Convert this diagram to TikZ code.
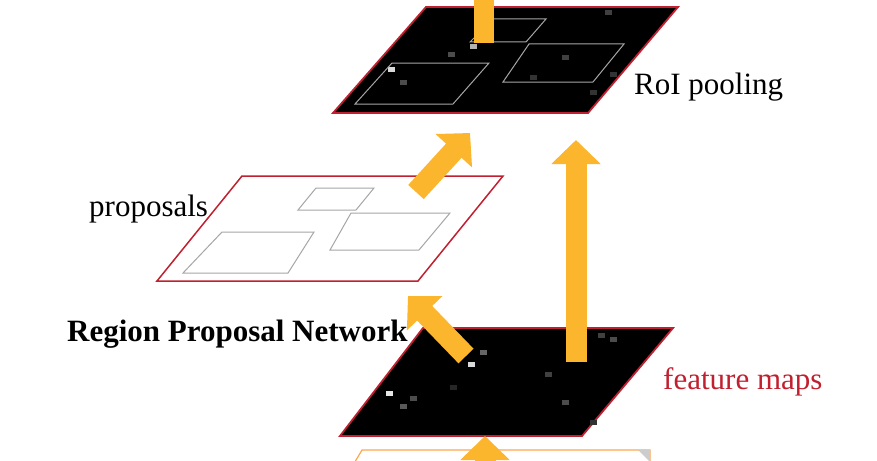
\documentclass[tikz,border=0pt]{standalone}
\usepackage{fontspec}
\setmainfont{Liberation Serif}
\usetikzlibrary{arrows.meta}
\definecolor{org}{HTML}{FBB62E}
\definecolor{rd}{HTML}{C0202F}
\tikzset{
 map/.style={draw=rd,line width=1.8pt,fill=black},
 prop/.style={draw=rd,line width=1.5pt,fill=white},
 box/.style={draw=gray!70,line width=1pt},
 bigarrow/.style={org,line width=21pt,-{Triangle[length=24pt,width=48pt]},shorten >=0pt},
 lbl/.style={font=\fontsize{31}{33}\selectfont,inner sep=0pt}
}
\begin{document}
\begin{tikzpicture}[x=1pt,y=-1pt]
\useasboundingbox (0,0) rectangle (877,460);
% bottom orange partial
\draw[draw=orange!70,line width=1.2pt,fill=white] (362,450) -- (650,450) -- (650,470) -- (350,470) -- cycle;
\fill[gray!40] (638,450) -- (650,450) -- (650,462) -- cycle;
% feature map
\draw[map] (423,328) -- (673,328) -- (582,436) -- (340,436) -- cycle;
\foreach \x/\y/\c in {468/362/85,386/391/90,480/350/40,400/404/35,410/396/30,545/372/25,562/400/30,598/333/25,610/337/30,590/420/20,450/385/15}
  \fill[white!\c!black] (\x,\y) rectangle ++(7,5);
% proposals
\draw[prop] (242,176) -- (503,176) -- (418,281) -- (157,281) -- cycle;
\draw[box] (316,188) -- (374,188) -- (356,210) -- (298,210) -- cycle;
\draw[box] (351,213) -- (450,213) -- (419,250) -- (330,250) -- cycle;
\draw[box] (222,232) -- (314,232) -- (288,273) -- (183,273) -- cycle;
% roi map
\draw[map] (426,7) -- (678,7) -- (588,113) -- (333,113) -- cycle;
\foreach \x/\y/\c in {388/67/85,470/44/70,448/52/30,400/80/30,562/55/25,530/75/20,610/72/20,605/10/25,590/90/20}
  \fill[white!\c!black] (\x,\y) rectangle ++(7,5);
\draw[box] (493,19) -- (546,19) -- (526,42) -- (470,42) -- cycle;
\draw[box] (529,44) -- (624,44) -- (593,82) -- (503,82) -- cycle;
\draw[box] (392,63) -- (489,63) -- (453,104) -- (355,104) -- cycle;
% arrows
\fill[org] (474,-5) rectangle (494,43);
\coordinate (vs) at (576,362); \coordinate (ve) at (576,140);
\draw[bigarrow] (vs) -- (ve);
\coordinate (d1s) at (416,192); \coordinate (d1e) at (470,133);
\draw[bigarrow] (d1s) -- (d1e);
\coordinate (d2s) at (466,356); \coordinate (d2e) at (408,296);
\draw[bigarrow] (d2s) -- (d2e);
\coordinate (bs) at (485,470); \coordinate (be) at (485,436);
\draw[bigarrow] (bs) -- (be);
% labels
\node[lbl,anchor=west] (roi) at (634,87) {RoI pooling};
\node[lbl,anchor=west] (pr) at (89,209) {proposals};
\node[lbl,anchor=west,font=\fontsize{31}{33}\selectfont\bfseries] (rpn) at (67,334) {Region Proposal Network};
\node[lbl,anchor=west,text=rd] (fm) at (663,382) {feature maps};
\end{tikzpicture}
\end{document}
